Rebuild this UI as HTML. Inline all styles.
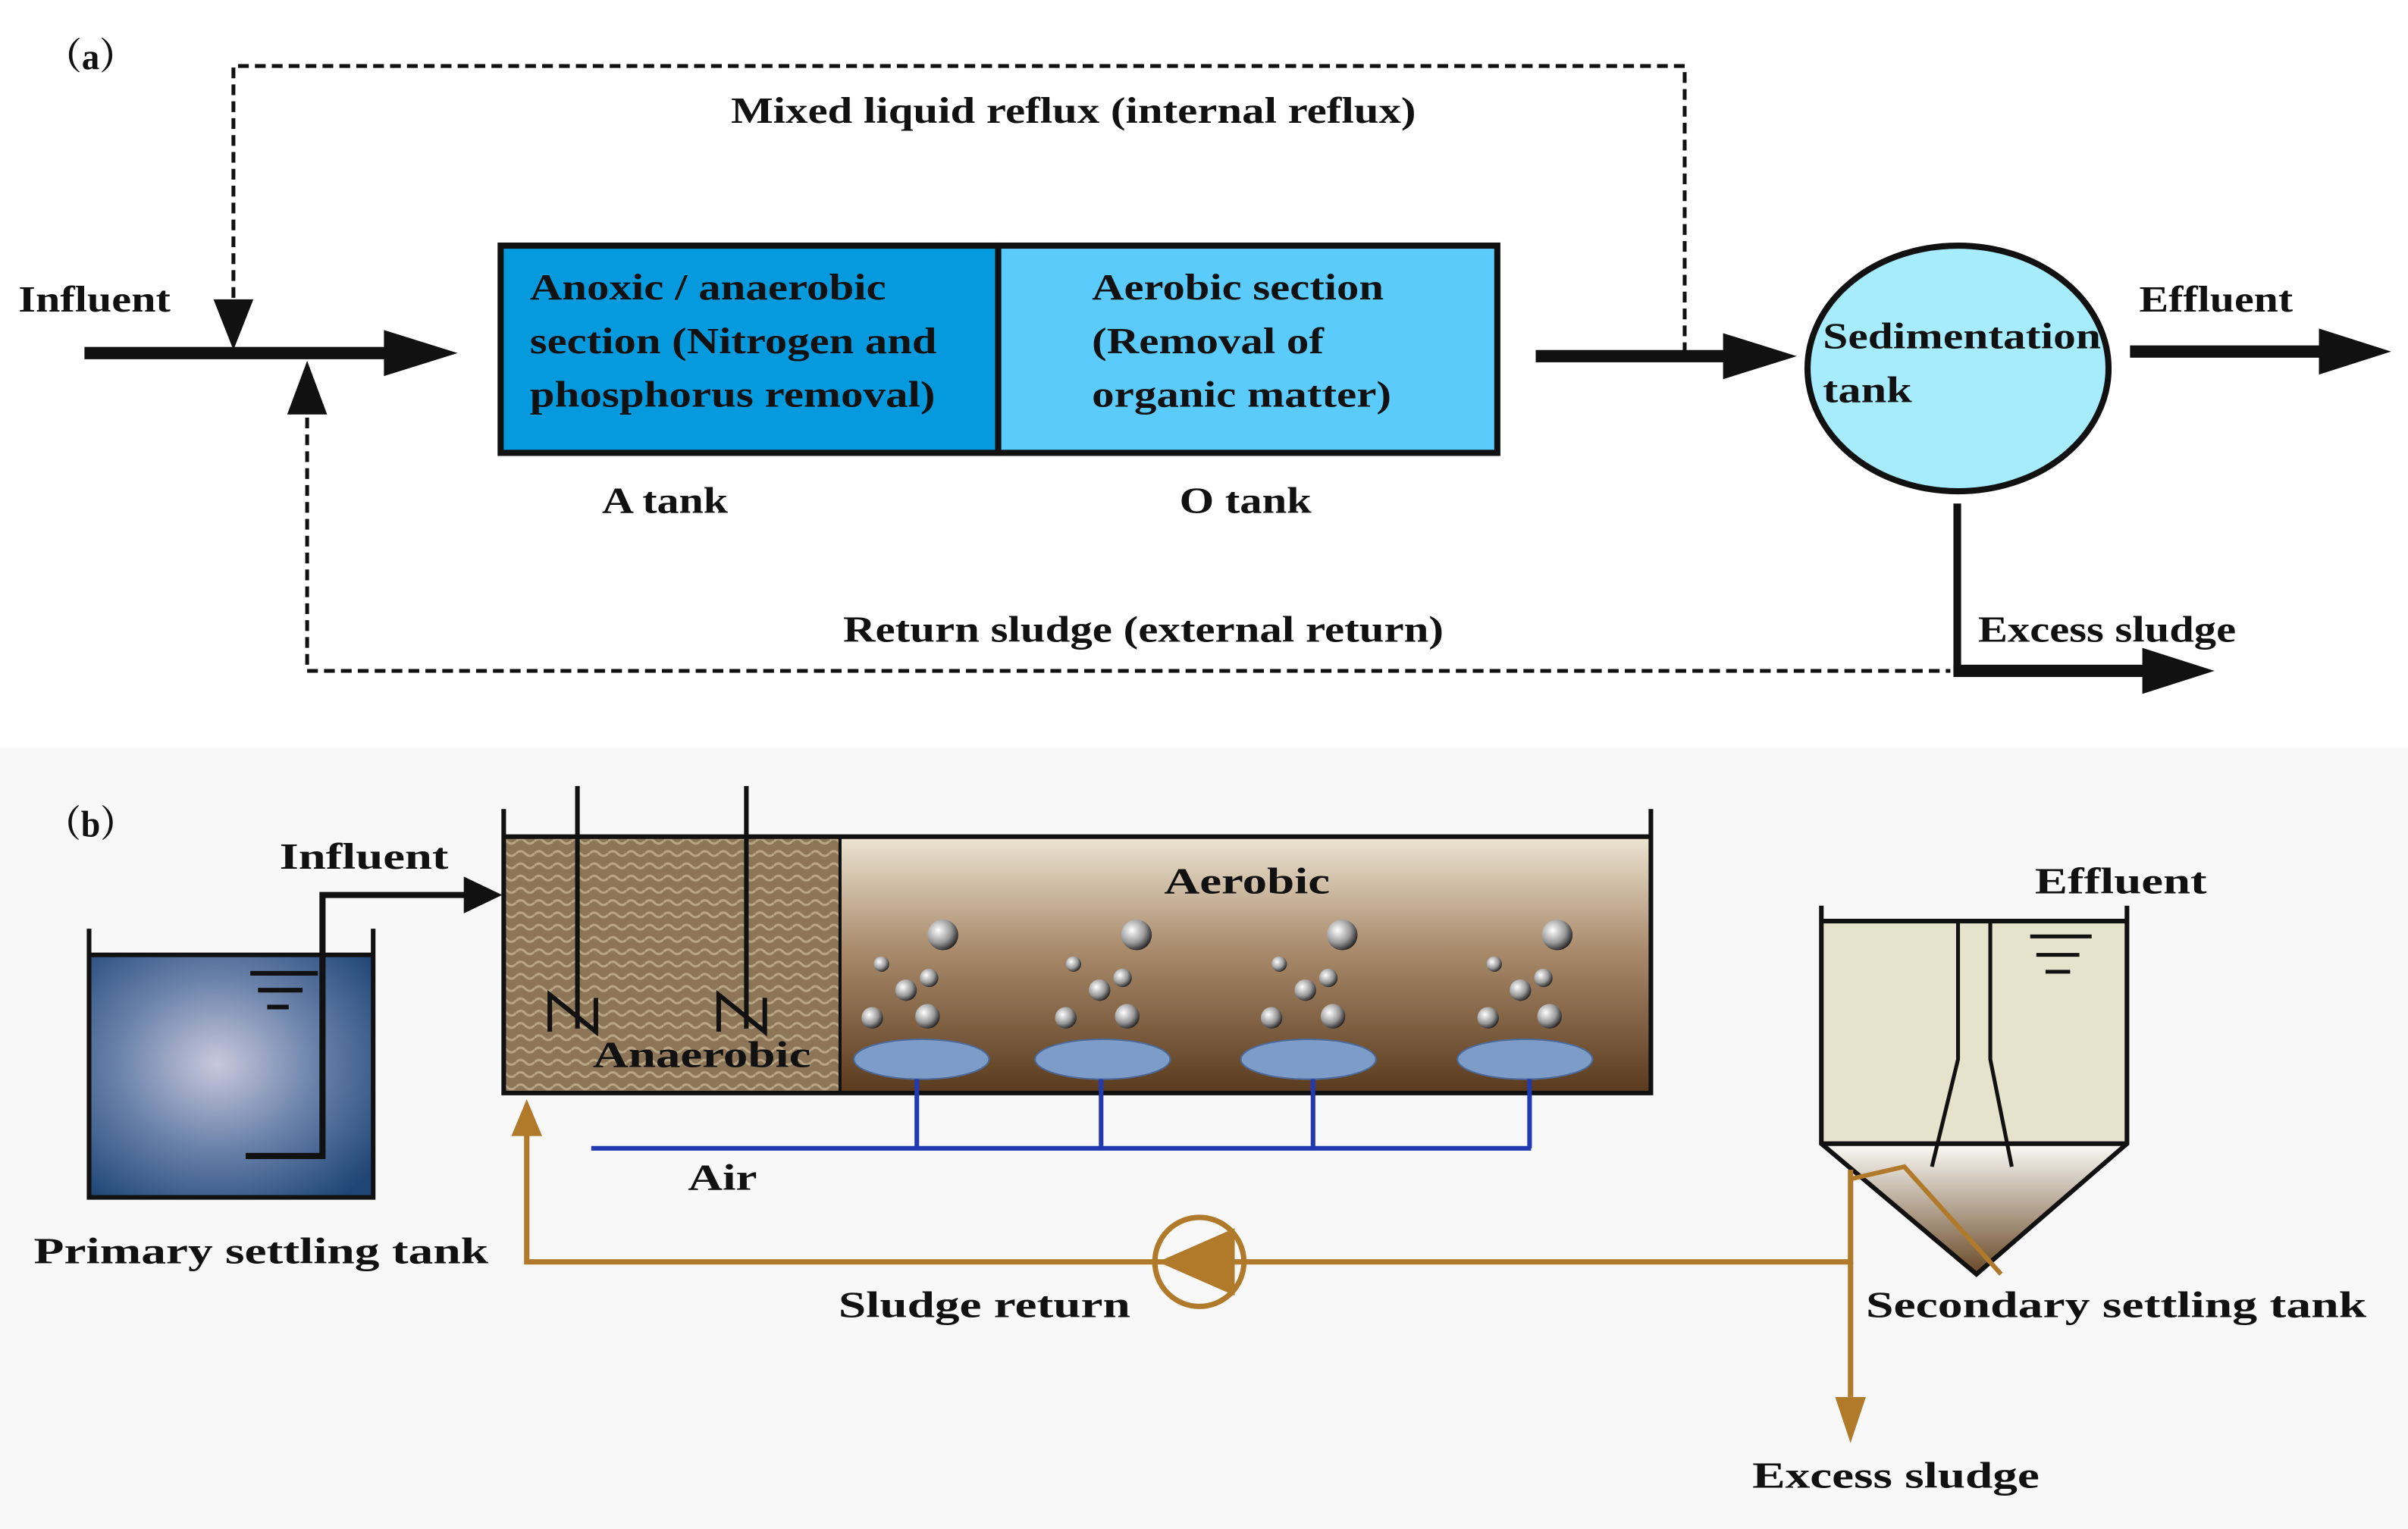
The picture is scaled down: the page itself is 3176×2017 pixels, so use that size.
<!DOCTYPE html>
<html><head><meta charset="utf-8"><style>html,body{margin:0;padding:0;background:#fff}svg{display:block}text{font-family:"Liberation Serif","Noto Serif CJK SC",serif;font-weight:bold;fill:#111}</style></head><body>
<svg width="3176" height="2017" viewBox="0 0 1568 996" preserveAspectRatio="none" xmlns="http://www.w3.org/2000/svg">
<defs>
<radialGradient id="pb" cx="0.45" cy="0.45" r="0.7"><stop offset="0" stop-color="#c8c8dc"/><stop offset="0.5" stop-color="#6a82aa"/><stop offset="1" stop-color="#1f4677"/></radialGradient>
<linearGradient id="ae" x1="0" y1="0" x2="0" y2="1"><stop offset="0" stop-color="#ece4d2"/><stop offset="0.45" stop-color="#a8896a"/><stop offset="1" stop-color="#5a3a1c"/></linearGradient>
<linearGradient id="cone" x1="0" y1="0" x2="0" y2="1"><stop offset="0" stop-color="#fafaf6"/><stop offset="1" stop-color="#6a4a28"/></linearGradient>
<pattern id="tex" width="12" height="8" patternUnits="userSpaceOnUse"><rect width="12" height="8" fill="#8d7658"/><path d="M0 4 Q3 1 6 4 T12 4" stroke="#b8a584" stroke-width="1.5" fill="none"/></pattern>
<radialGradient id="bub" cx="0.35" cy="0.35" r="0.7"><stop offset="0" stop-color="#fff"/><stop offset="0.6" stop-color="#999"/><stop offset="1" stop-color="#222"/></radialGradient>
</defs>
<rect x="0" y="487" width="1568" height="509" fill="#f8f8f8"/>
<!-- panel a -->
<text x="30" y="45" font-size="24" textLength="58" lengthAdjust="spacingAndGlyphs">（a）</text>
<g stroke="#111" stroke-width="2.5" stroke-dasharray="7,4" fill="none">
<polyline points="152,205 152,43 1097,43 1097,230"/>
<polyline points="200,250 200,437 1270,437"/>
</g>
<polygon points="139,195 165,195 152,228" fill="#111"/>
<polygon points="187,270 213,270 200,235" fill="#111"/>
<g font-size="24" lengthAdjust="spacingAndGlyphs">
<text x="476" y="80" textLength="446" lengthAdjust="spacingAndGlyphs">Mixed liquid reflux (internal reflux)</text>
<text x="12" y="203" textLength="99" lengthAdjust="spacingAndGlyphs">Influent</text>
</g>
<rect x="55" y="226" width="210" height="8" fill="#111"/>
<polygon points="250,215 298,230 250,245" fill="#111"/>
<rect x="326" y="160" width="324" height="135" fill="#0599dd" stroke="#111" stroke-width="4"/>
<rect x="650" y="160" width="325" height="135" fill="#5bcbfb" stroke="#111" stroke-width="4"/>
<g font-size="24"><text x="345" y="195" textLength="232" lengthAdjust="spacingAndGlyphs">Anoxic / anaerobic</text><text x="345" y="230" textLength="265" lengthAdjust="spacingAndGlyphs">section (Nitrogen and</text><text x="345" y="265" textLength="264" lengthAdjust="spacingAndGlyphs">phosphorus removal)</text>
<text x="711" y="195" textLength="190" lengthAdjust="spacingAndGlyphs">Aerobic section</text><text x="711" y="230" textLength="151" lengthAdjust="spacingAndGlyphs">(Removal of</text><text x="711" y="265" textLength="195" lengthAdjust="spacingAndGlyphs">organic matter)</text>
<text x="392" y="334" textLength="82" lengthAdjust="spacingAndGlyphs">A tank</text><text x="768" y="334" textLength="86" lengthAdjust="spacingAndGlyphs">O tank</text></g>
<rect x="1000" y="228" width="130" height="8" fill="#111"/>
<polygon points="1122,217 1170,232 1122,247" fill="#111"/>
<ellipse cx="1275" cy="240" rx="98" ry="80" fill="#a6ecfc" stroke="#111" stroke-width="4"/>
<text x="1187" y="227" font-size="24" textLength="181" lengthAdjust="spacingAndGlyphs">Sedimentation</text><text x="1187" y="262" font-size="24" textLength="58" lengthAdjust="spacingAndGlyphs">tank</text>
<text x="1393" y="203" font-size="24" textLength="100" lengthAdjust="spacingAndGlyphs">Effluent</text>
<rect x="1387" y="225" width="130" height="8" fill="#111"/>
<polygon points="1510,214 1557,229 1510,244" fill="#111"/>
<rect x="1272" y="328" width="5" height="111" fill="#111"/>
<rect x="1272" y="433" width="130" height="8" fill="#111"/>
<polygon points="1395,422 1442,437 1395,452" fill="#111"/>
<text x="1288" y="418" font-size="24" textLength="168" lengthAdjust="spacingAndGlyphs">Excess sludge</text>
<text x="549" y="418" font-size="24" textLength="391" lengthAdjust="spacingAndGlyphs">Return sludge (external return)</text>
<!-- panel b -->
<text x="30" y="545" font-size="24" textLength="58" lengthAdjust="spacingAndGlyphs">（b）</text>
<rect x="58" y="622" width="185" height="158" fill="url(#pb)"/>
<path d="M58 605 V780 H243 V605" stroke="#111" stroke-width="3" fill="none"/>
<line x1="58" y1="622" x2="243" y2="622" stroke="#111" stroke-width="3"/>
<g stroke="#111" stroke-width="3"><line x1="163" y1="634" x2="207" y2="634"/><line x1="168" y1="645" x2="197" y2="645"/><line x1="174" y1="656" x2="188" y2="656"/></g>
<polyline points="160,753 210,753 210,583 305,583" stroke="#111" stroke-width="4" fill="none"/>
<polygon points="302,571 327,583 302,595" fill="#111"/>
<text x="182" y="566" font-size="24" textLength="110" lengthAdjust="spacingAndGlyphs">Influent</text>
<text x="22" y="823" font-size="24" textLength="296" lengthAdjust="spacingAndGlyphs">Primary settling tank</text>
<rect x="328" y="545" width="219" height="167" fill="url(#tex)"/>
<rect x="547" y="545" width="528" height="167" fill="url(#ae)"/>
<path d="M328 527 V712 H1075 V527" stroke="#111" stroke-width="3" fill="none"/>
<line x1="328" y1="545" x2="1075" y2="545" stroke="#111" stroke-width="3"/>
<line x1="547" y1="545" x2="547" y2="712" stroke="#111" stroke-width="2"/>
<g stroke="#111" stroke-width="3" fill="none"><line x1="376" y1="512" x2="376" y2="670"/><line x1="486" y1="512" x2="486" y2="670"/>
<polyline points="358,672 358,648 388,672 388,650"/><polyline points="468,672 468,648 498,672 498,650"/></g>
<text x="386" y="695" font-size="24" fill="#3a2a1a" textLength="142" lengthAdjust="spacingAndGlyphs">Anaerobic</text>
<text x="758" y="582" font-size="24" textLength="108" lengthAdjust="spacingAndGlyphs">Aerobic</text>
<g fill="url(#bub)">
<circle cx="614" cy="609" r="10"/><circle cx="574" cy="628" r="5"/><circle cx="605" cy="637" r="6"/><circle cx="590" cy="645" r="7"/><circle cx="568" cy="663" r="7"/><circle cx="604" cy="662" r="8"/>
<circle cx="740" cy="609" r="10"/><circle cx="699" cy="628" r="5"/><circle cx="731" cy="637" r="6"/><circle cx="716" cy="645" r="7"/><circle cx="694" cy="663" r="7"/><circle cx="734" cy="662" r="8"/>
<circle cx="874" cy="609" r="10"/><circle cx="833" cy="628" r="5"/><circle cx="865" cy="637" r="6"/><circle cx="850" cy="645" r="7"/><circle cx="828" cy="663" r="7"/><circle cx="868" cy="662" r="8"/>
<circle cx="1014" cy="609" r="10"/><circle cx="973" cy="628" r="5"/><circle cx="1005" cy="637" r="6"/><circle cx="990" cy="645" r="7"/><circle cx="969" cy="663" r="7"/><circle cx="1009" cy="662" r="8"/>
</g>
<g fill="#7d9cc8" stroke="#4c6a9a" stroke-width="1"><ellipse cx="600" cy="690" rx="44" ry="13"/><ellipse cx="718" cy="690" rx="44" ry="13"/><ellipse cx="852" cy="690" rx="44" ry="13"/><ellipse cx="993" cy="690" rx="44" ry="13"/></g>
<g stroke="#2239b0" stroke-width="3" fill="none"><line x1="385" y1="748" x2="997" y2="748"/><line x1="597" y1="703" x2="597" y2="748"/><line x1="717" y1="703" x2="717" y2="748"/><line x1="855" y1="703" x2="855" y2="748"/><line x1="996" y1="703" x2="996" y2="748"/></g>
<text x="448" y="775" font-size="24" textLength="45" lengthAdjust="spacingAndGlyphs">Air</text>
<rect x="1186" y="600" width="199" height="145" fill="#e6e3cc"/>
<polygon points="1186,745 1385,745 1287,830" fill="url(#cone)"/>
<path d="M1186 590 V745 L1287 830 L1385 745 V590" stroke="#111" stroke-width="3" fill="none"/>
<line x1="1186" y1="600" x2="1385" y2="600" stroke="#111" stroke-width="3"/>
<line x1="1186" y1="745" x2="1385" y2="745" stroke="#111" stroke-width="3"/>
<g stroke="#111" stroke-width="2.5" fill="none"><polyline points="1275,600 1275,690 1258,760"/><polyline points="1296,600 1296,690 1310,760"/>
<line x1="1322" y1="610" x2="1362" y2="610"/><line x1="1326" y1="622" x2="1354" y2="622"/><line x1="1332" y1="633" x2="1348" y2="633"/></g>
<polyline points="1205,768 1240,760 1303,830" stroke="#b07a2a" stroke-width="3" fill="none"/>
<text x="1325" y="582" font-size="24" textLength="112" lengthAdjust="spacingAndGlyphs">Effluent</text>
<g stroke="#b07a2a" stroke-width="3.5" fill="none">
<polyline points="1205,762 1205,822 343,822 343,738"/>
<line x1="1205" y1="822" x2="1205" y2="910"/>
<circle cx="781" cy="822" r="29"/>
</g>
<polygon points="333,740 353,740 343,716" fill="#b07a2a"/>
<polygon points="1195,910 1215,910 1205,940" fill="#b07a2a"/>
<polygon points="754,822 804,800 804,844" fill="#b07a2a"/>
<text x="546" y="858" font-size="24" textLength="190" lengthAdjust="spacingAndGlyphs">Sludge return</text>
<text x="1215" y="858" font-size="24" textLength="326" lengthAdjust="spacingAndGlyphs">Secondary settling tank</text>
<text x="1141" y="969" font-size="24" textLength="187" lengthAdjust="spacingAndGlyphs">Excess sludge</text>
</svg>
</body></html>
